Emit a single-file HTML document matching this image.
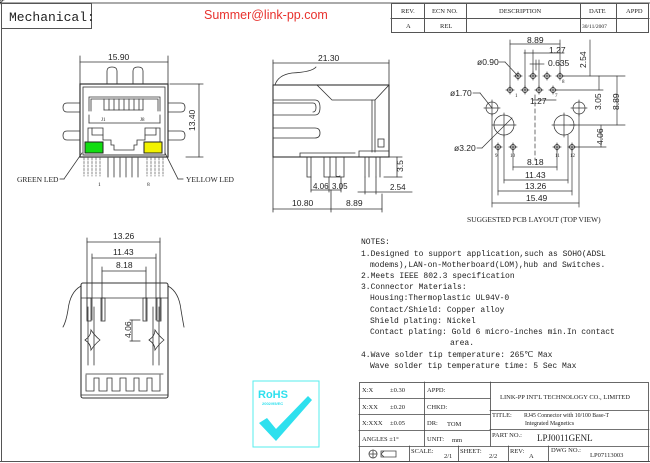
<!DOCTYPE html>
<html><head><meta charset="utf-8"><style>
html,body{margin:0;padding:0;background:#fff;}
svg{display:block;font-family:"Liberation Serif",serif;}
text{fill:#222;}
.m,.m text{font-family:"Liberation Mono",monospace;}
.s,.s text{font-family:"Liberation Sans",sans-serif;}
</style></head><body>
<svg width="650" height="463" viewBox="0 0 650 463" xmlns="http://www.w3.org/2000/svg" stroke-linecap="square">
<g fill="none" stroke="#555" stroke-width="1">
<line x1="0" y1="3" x2="650" y2="3"/>
<line x1="1.5" y1="3" x2="1.5" y2="461"/>
<line x1="0" y1="461.5" x2="650" y2="461.5"/>
<rect x="1.5" y="3.5" width="90" height="25"/>
<rect x="391.5" y="3.5" width="257" height="29"/>
<line x1="391" y1="18.5" x2="649" y2="18.5"/>
<line x1="424.5" y1="3" x2="424.5" y2="32"/>
<line x1="466.5" y1="3" x2="466.5" y2="32"/>
<line x1="580.5" y1="3" x2="580.5" y2="32"/>
<line x1="616.5" y1="3" x2="616.5" y2="32"/>
</g>
<text x="9" y="21" font-size="13" class="m">Mechanical:</text>
<text x="204" y="19" font-size="12.5" class="s" style="fill:#e8322e">Summer@link-pp.com</text>
<g font-size="6.5">
<text x="401" y="13">REV.</text><text x="432" y="13">ECN NO.</text><text x="499" y="13">DESCRIPTION</text><text x="589" y="13">DATE</text><text x="626" y="13">APPD</text>
<text x="406" y="28">A</text><text x="440" y="28">REL</text><text x="582" y="28" font-size="5.5">30/11/2007</text>
</g>

<!-- FRONT VIEW -->
<g fill="none" stroke="#333" stroke-width="0.8">
<line x1="80" y1="56" x2="80" y2="84"/><line x1="168" y1="56" x2="168" y2="84"/>
<line x1="80" y1="62" x2="168" y2="62"/>
<path d="M107 84 V71 Q107 67 112 67 Q117 67 117 71 V84"/>
<path d="M133 84 V71 Q133 67 138 67 Q143 67 143 71 V84"/>
<rect x="80" y="84" width="88" height="73" stroke-width="1.2"/>
<rect x="83" y="87" width="82" height="68"/>
<path d="M80 103 H67 Q63 103 63 107.5 Q63 112 67 112 H80"/>
<path d="M80 131 H67 Q63 131 63 135.5 Q63 140 67 140 H80"/>
<path d="M168 103 H181 Q185 103 185 107.5 Q185 112 181 112 H168"/>
<path d="M168 131 H181 Q185 131 185 135.5 Q185 140 181 140 H168"/>
<path d="M89 111 V97 H160 V111 M91 111 V99 H158 V111"/>
<path d="M104 99 V110 M109 99 V110 M114 99 V110 M119 99 V110 M124 99 V110 M129 99 V110 M134 99 V110 M139 99 V110 M143 99 V110"/>
<line x1="104" y1="110" x2="143" y2="110"/>
<line x1="89" y1="115" x2="89" y2="123"/><line x1="160" y1="115" x2="160" y2="123"/>
<line x1="89" y1="123" x2="160" y2="123"/>
<path d="M88 150 V128 H103 V140 H111 V145 H114 V150 H134 V145 H137 V140 H145 V128 H160 V150"/>
<path d="M92 128 V135 H103 M145 135 H156 V128"/>
<line x1="84" y1="155" x2="164" y2="155"/>
<line x1="199" y1="84" x2="199" y2="157"/>
<line x1="170" y1="84" x2="203" y2="84"/><line x1="186" y1="157" x2="203" y2="157"/>
<line x1="60" y1="179" x2="64" y2="179"/><line x1="64" y1="179" x2="82" y2="153"/>
<line x1="183" y1="179" x2="178" y2="179"/><line x1="178" y1="179" x2="165" y2="153"/>
</g>
<rect x="85" y="142" width="18" height="11" fill="#11dd11" stroke="#222"/>
<rect x="144" y="142" width="18" height="11" fill="#f2f200" stroke="#222"/>
<g stroke="#555" stroke-width="0.7" stroke-dasharray="2,1.5">
<path d="M84 158 V176 M88 158 V176 M92 158 V176 M96 158 V176 M100 158 V176 M147 158 V176 M151 158 V176 M155 158 V176 M159 158 V176 M163 158 V176"/>
</g>
<g stroke="#333" stroke-width="0.8">
<path d="M108 158 V177 M114 158 V177 M120 158 V177 M126 158 V177 M132 158 V177 M138 158 V177"/>
</g>
<text x="108" y="60" font-size="8.5" class="s">15.90</text>
<text transform="translate(195 131) rotate(-90)" font-size="8.5" class="s">13.40</text>
<text x="17" y="182" font-size="7.5">GREEN LED</text>
<text x="186" y="182" font-size="7.5">YELLOW LED</text>
<text x="98" y="186" font-size="5.5">1</text><text x="147" y="186" font-size="5.5">8</text>
<text x="101" y="121" font-size="5">J1</text><text x="140" y="121" font-size="5">J8</text>

<!-- SIDE VIEW -->
<g fill="none" stroke="#333" stroke-width="0.8">
<line x1="273" y1="60" x2="273" y2="85"/><line x1="389" y1="60" x2="389" y2="85"/>
<line x1="273" y1="63" x2="389" y2="63"/>
<path d="M275 85 Q278 75 292 73 Q312 72 316 67"/>
<rect x="273" y="85" width="116" height="72" stroke-width="1.1"/>
<path d="M317 85 L332 100 H375 L389 85"/>
<line x1="372" y1="100" x2="372" y2="152"/><line x1="375" y1="100" x2="375" y2="152"/>
<path d="M273 100 H315 Q320 100 320 107.5 Q320 115 315 115 H273"/>
<path d="M273 103 H313 Q316 103 316 107.5 Q316 112 313 112"/>
<path d="M273 128 H315 Q320 128 320 133 Q320 138 315 138 H273"/>
<rect x="378" y="139" width="6" height="8"/>
<path d="M359 157 V151 H389"/>
<path d="M300 157 V153 H355"/>
<path d="M307 157 V177 H311 V157"/>
<path d="M324 157 V177 H344 V157 M330 157 V177 M336 157 V176 Q338 177 340 176"/>
<path d="M365 157 V177 M369 157 V177 M376 157 V177 M380 157 V177"/>
<line x1="384" y1="157" x2="402" y2="157"/><line x1="384" y1="177" x2="402" y2="177"/>
<line x1="397" y1="157" x2="397" y2="177"/>
<line x1="311" y1="177" x2="311" y2="192"/><line x1="329" y1="177" x2="329" y2="192"/><line x1="341" y1="177" x2="341" y2="192"/>
<line x1="311" y1="190" x2="341" y2="190"/>
<line x1="365" y1="177" x2="365" y2="194"/><line x1="376" y1="177" x2="376" y2="194"/>
<line x1="358" y1="192" x2="412" y2="192"/>
<line x1="273" y1="157" x2="273" y2="212"/><line x1="331" y1="190" x2="331" y2="212"/><line x1="382" y1="194" x2="382" y2="212"/>
<line x1="273" y1="209" x2="382" y2="209"/>
</g>
<text x="318" y="61" font-size="8.5" class="s">21.30</text>
<text transform="translate(403 172) rotate(-90)" font-size="8.5" class="s">3.5</text>
<text x="313" y="189" font-size="8" class="s">4.06</text>
<text x="332" y="189" font-size="8" class="s">3.05</text>
<text x="390" y="190" font-size="8" class="s">2.54</text>
<text x="292" y="206" font-size="8.5" class="s">10.80</text>
<text x="346" y="206" font-size="8.5" class="s">8.89</text>

<!-- PCB LAYOUT -->
<g fill="none" stroke="#333" stroke-width="0.7">
<line x1="510" y1="40" x2="510" y2="90"/><line x1="560" y1="40" x2="560" y2="76"/>
<line x1="510" y1="44" x2="560" y2="44"/>
<line x1="524" y1="53" x2="564" y2="53"/><line x1="533" y1="50" x2="533" y2="76"/><line x1="525" y1="50" x2="525" y2="90"/>
<line x1="530" y1="64" x2="544" y2="64"/><line x1="536" y1="60" x2="536" y2="70"/><line x1="539" y1="60" x2="539" y2="90"/>
<line x1="499" y1="62" x2="505" y2="62"/><line x1="505" y1="62" x2="518" y2="76"/>
<line x1="563" y1="76" x2="625" y2="76"/><line x1="556" y1="90" x2="603" y2="90"/>
<line x1="590" y1="40" x2="590" y2="76"/>
<line x1="599" y1="76" x2="599" y2="90"/>
<line x1="617" y1="76" x2="617" y2="125"/>
<line x1="570" y1="125" x2="625" y2="125"/>
<line x1="601" y1="125" x2="601" y2="147"/>
<line x1="575" y1="147" x2="606" y2="147"/>
<line x1="473" y1="93" x2="480" y2="93"/><line x1="480" y1="93" x2="492" y2="108"/>
<line x1="533" y1="100" x2="556" y2="100"/>
<line x1="477" y1="148" x2="482" y2="148"/><line x1="482" y1="148" x2="512" y2="118"/>
<circle cx="492" cy="108" r="6"/><circle cx="579" cy="108" r="6"/>
<circle cx="504" cy="125" r="10"/><circle cx="564" cy="125" r="10"/>
<path d="M492 100 V116 M484 108 H500 M579 100 V116 M571 108 H587 M504 113 V137 M492 125 H516 M564 113 V137 M552 125 H576"/>
<g stroke-dasharray="4,3"><line x1="535" y1="95" x2="535" y2="160"/></g>
<line x1="498" y1="147" x2="498" y2="195"/><line x1="572" y1="147" x2="572" y2="195"/>
<line x1="513" y1="147" x2="513" y2="170"/><line x1="557" y1="147" x2="557" y2="170"/>
<line x1="504" y1="135" x2="504" y2="183"/><line x1="568" y1="135" x2="568" y2="183"/>
<line x1="492" y1="114" x2="492" y2="207"/><line x1="579" y1="114" x2="579" y2="207"/>
<line x1="513" y1="167" x2="557" y2="167"/>
<line x1="504" y1="180" x2="568" y2="180"/>
<line x1="498" y1="191" x2="572" y2="191"/>
<line x1="492" y1="203" x2="579" y2="203"/>
</g>
<g fill="none" stroke="#222" stroke-width="0.7">
<g id="h"><circle r="2.5"/><path d="M-4 0 H4 M0 -4 V4"/></g>
</g>
<g fill="none" stroke="#222" stroke-width="0.7">
<use href="#h" x="518" y="76"/><use href="#h" x="533" y="76"/><use href="#h" x="547" y="76"/><use href="#h" x="560" y="76"/>
<use href="#h" x="510" y="90"/><use href="#h" x="525" y="90"/><use href="#h" x="539" y="90"/><use href="#h" x="553" y="90"/>
<use href="#h" x="498" y="147"/><use href="#h" x="513" y="147"/><use href="#h" x="557" y="147"/><use href="#h" x="572" y="147"/>
</g>
<g font-size="8.5" class="s">
<text x="527" y="43">8.89</text><text x="549" y="53">1.27</text><text x="548" y="66">0.635</text>
<text x="477" y="65">ø0.90</text><text x="450" y="96">ø1.70</text><text x="454" y="151">ø3.20</text>
<text x="530" y="104">1.27</text>
<text transform="translate(586 68) rotate(-90)">2.54</text>
<text transform="translate(601 110) rotate(-90)">3.05</text>
<text transform="translate(619 110) rotate(-90)">8.89</text>
<text transform="translate(603 145) rotate(-90)">4.06</text>
<text x="527" y="165">8.18</text><text x="525" y="178">11.43</text><text x="525" y="189">13.26</text><text x="526" y="201">15.49</text>
</g>
<g font-size="5"><text x="495" y="157">9</text><text x="510" y="157">10</text><text x="555" y="157">11</text><text x="570" y="157">12</text>
<text x="515" y="97">1</text><text x="555" y="97">7</text><text x="562" y="83">8</text></g>
<text x="467" y="222" font-size="7.5">SUGGESTED PCB LAYOUT (TOP VIEW)</text>

<!-- BOTTOM VIEW -->
<g fill="none" stroke="#333" stroke-width="0.8">
<line x1="87" y1="238" x2="87" y2="320"/><line x1="160" y1="238" x2="160" y2="320"/>
<line x1="87" y1="242" x2="160" y2="242"/>
<line x1="92" y1="254" x2="92" y2="320"/><line x1="156" y1="254" x2="156" y2="320"/>
<line x1="92" y1="258" x2="156" y2="258"/>
<line x1="102" y1="267" x2="102" y2="320"/><line x1="146" y1="267" x2="146" y2="320"/>
<line x1="102" y1="271" x2="146" y2="271"/>
<rect x="81" y="283" width="87" height="115" rx="2" stroke-width="1.1"/>
<line x1="81" y1="298" x2="168" y2="298"/>
<path d="M81 286 Q70 292 68 310 Q66 322 63 327"/>
<path d="M168 286 Q179 292 181 310 Q183 322 184 327"/>
<rect x="87" y="298" width="4" height="23"/><rect x="101" y="298" width="4" height="23"/>
<rect x="143" y="298" width="4" height="23"/><rect x="157" y="298" width="4" height="23"/>
<path d="M88 307 V365 M94 307 V365 M153 307 V365 M159 307 V365"/>
<path d="M85 340 Q91 336 91 330 Q95 336 100 340 Q95 344 91 350 Q91 344 85 340Z"/>
<path d="M149 340 Q155 336 155 330 Q159 336 164 340 Q159 344 155 350 Q155 344 149 340Z"/>
<line x1="130" y1="320" x2="140" y2="320"/><line x1="130" y1="341" x2="140" y2="341"/>
<line x1="132" y1="320" x2="132" y2="341"/>
<line x1="86" y1="374" x2="163" y2="374"/>
<path d="M86 375 V391 H94 V378 H99 V391 H107 V378 H112 V391 H120 V378 H126 V391 H134 V378 H139 V391 H147 V378 H152 V391 H160 V375"/>
<line x1="81" y1="395" x2="168" y2="395"/>
</g>
<g font-size="8.5" class="s">
<text x="113" y="239">13.26</text><text x="113" y="255">11.43</text><text x="116" y="268">8.18</text>
<text transform="translate(131 338) rotate(-90)">4.06</text>
</g>

<!-- ROHS -->
<rect x="253" y="381" width="66" height="66" fill="#fff" stroke="#5ee" stroke-width="1"/>
<text x="258" y="398" font-size="11" font-weight="bold" class="s" style="fill:#2ee0ee">RoHS</text>
<text x="262" y="405" font-size="4" font-weight="bold" class="s" style="fill:#2ee0ee">2002/95/EC</text>
<path d="M259 423 L267 418 L276 429 L308 396 L312 400 L276 441 Z" fill="#2ee0ee"/>

<!-- NOTES -->
<g font-size="8" class="m">
<text x="361" y="244">NOTES:</text>
<text x="361" y="256">1.Designed to support application,such as SOHO(ADSL</text>
<text x="370" y="267">modems),LAN-on-Motherboard(LOM),hub and Switches.</text>
<text x="361" y="278">2.Meets IEEE 802.3 specification</text>
<text x="361" y="289">3.Connector Materials:</text>
<text x="370" y="300">Housing:Thermoplastic UL94V-0</text>
<text x="370" y="312">Contact/Shield: Copper alloy</text>
<text x="370" y="323">Shield plating: Nickel</text>
<text x="370" y="334">Contact plating: Gold 6 micro-inches min.In contact</text>
<text x="450" y="345">area.</text>
<text x="361" y="357">4.Wave solder tip temperature: 265℃ Max</text>
<text x="370" y="368">Wave solder tip temperature time: 5 Sec Max</text>
</g>

<!-- TITLE BLOCK -->
<g fill="none" stroke="#444" stroke-width="0.8">
<rect x="359.5" y="382.5" width="289" height="79"/>
<line x1="359" y1="398.5" x2="490" y2="398.5"/>
<line x1="359" y1="414.5" x2="490" y2="414.5"/>
<line x1="359" y1="430.5" x2="490" y2="430.5"/>
<line x1="359" y1="446.5" x2="649" y2="446.5"/>
<line x1="424.5" y1="382" x2="424.5" y2="446"/>
<line x1="490.5" y1="382" x2="490.5" y2="446"/>
<line x1="490" y1="410.5" x2="649" y2="410.5"/>
<line x1="490" y1="429.5" x2="649" y2="429.5"/>
<line x1="409.5" y1="446" x2="409.5" y2="461"/>
<line x1="458.5" y1="446" x2="458.5" y2="461"/>
<line x1="508.5" y1="446" x2="508.5" y2="461"/>
<line x1="548.5" y1="446" x2="548.5" y2="461"/>
<circle cx="373" cy="454" r="4"/><path d="M369 454 H377 M373 450 V458"/>
<path d="M381 451 H396 V457 H381 Z M384 451 L381 454 L384 457"/>
</g>
<g font-size="6.5">
<text x="362" y="392">X:X</text><text x="390" y="392">±0.30</text><text x="427" y="392">APPD:</text>
<text x="362" y="409">X:XX</text><text x="390" y="409">±0.20</text><text x="427" y="409">CHKD:</text>
<text x="362" y="425">X:XXX</text><text x="390" y="425">±0.05</text><text x="427" y="425">DR:</text><text x="447" y="426">TOM</text>
<text x="362" y="441">ANGLES ±1°</text><text x="427" y="441">UNIT:</text><text x="452" y="442">mm</text>
<text x="500" y="399">LINK-PP INT'L TECHNOLOGY CO., LIMITED</text>
<text x="492" y="417">TITLE:</text>
<text x="524" y="417" font-size="5.8">RJ45 Connector with 10/100 Base-T</text>
<text x="525" y="425" font-size="5.8">Integrated Magnetics</text>
<text x="492" y="437">PART NO.:</text>
<text x="537" y="441" font-size="9">LPJ0011GENL</text>
<text x="411" y="453">SCALE:</text><text x="444" y="458">2/1</text>
<text x="460" y="453">SHEET:</text><text x="489" y="458">2/2</text>
<text x="510" y="453">REV:</text><text x="529" y="458">A</text>
<text x="551" y="452">DWG NO.:</text><text x="590" y="457">LP07113003</text>
</g>
</svg>
</body></html>
